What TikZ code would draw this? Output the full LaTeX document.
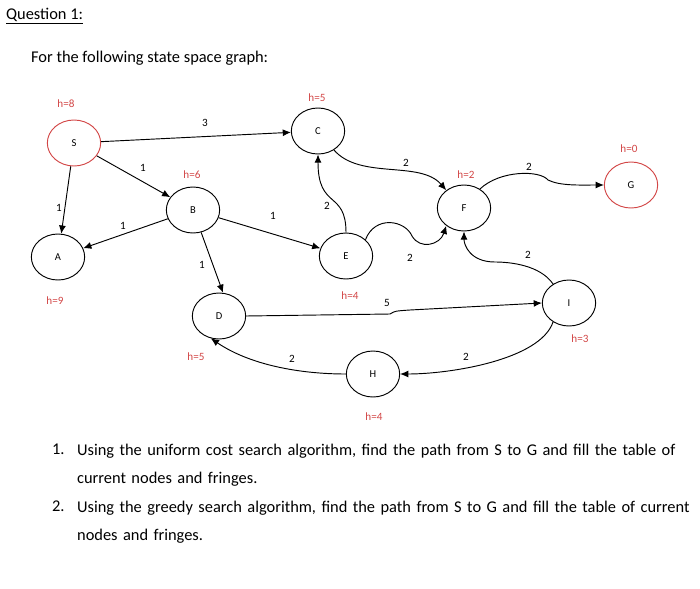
\documentclass[tikz,border=0pt]{standalone}
\usepackage{fontspec}
\setmainfont{Carlito}
\usetikzlibrary{arrows.meta,shapes.geometric}
\definecolor{hred}{RGB}{210,70,70}
\begin{document}
\begin{tikzpicture}[x=0.03cm,y=-0.03cm,
    state/.style={draw, thick, ellipse, minimum width=1.6cm, minimum height=1.38cm, font=\fontsize{9}{10}\selectfont},
    goal/.style={state, draw=hred},
    heur/.style={text=hred, font=\fontsize{9.5}{10}\selectfont},
    edge/.style={thick, -{Latex[length=7pt,width=6pt]}},
    cost/.style={font=\fontsize{9.5}{10}\selectfont},
    task/.style={anchor=north west, text width=18.7cm, align=left, font=\fontsize{14}{24}\selectfont}]
    \useasboundingbox (0,0) rectangle (700,589);

    % Heading
    \node[anchor=west, font=\fontsize{14}{16}\selectfont] (title) at (2,16) {\underline{Question 1:}};
    \node[anchor=west, font=\fontsize{14}{16}\selectfont] (intro) at (27,58) {For the following state space graph:};

    % States
    \node[goal] (S) at (74,143) {S};
    \node[state] (C) at (318,131) {C};
    \node[state] (B) at (193,210) {B};
    \node[state] (A) at (58,257) {A};
    \node[state] (E) at (346,256) {E};
    \node[state] (F) at (464,208) {F};
    \node[goal] (G) at (631,185) {G};
    \node[state] (D) at (219,316) {D};
    \node[state] (I) at (569,303) {I};
    \node[state] (H) at (373,374) {H};

    % Heuristics
    \node[heur] (hS) at (66,104) {h=8};
    \node[heur] (hC) at (317,98) {h=5};
    \node[heur] (hB) at (192,175) {h=6};
    \node[heur] (hA) at (55,301) {h=9};
    \node[heur] (hE) at (350,296) {h=4};
    \node[heur] (hF) at (466,175) {h=2};
    \node[heur] (hG) at (629,149) {h=0};
    \node[heur] (hI) at (580,339) {h=3};
    \node[heur] (hD) at (196,357) {h=5};
    \node[heur] (hH) at (374,417) {h=4};

    % Straight edges
    \draw[edge] (S) -- (C);
    \draw[edge] (S) -- (B);
    \draw[edge] (S) -- (A);
    \draw[edge] (B) -- (A);
    \draw[edge] (B) -- (E);
    \draw[edge] (B.-70) -- (D.80);

    % Curved edges
    \draw[edge] (E.90) .. controls (346,190) and (318,210) .. (C.-90);
    \draw[edge] (C.-50) .. controls (360,180) and (420,160) .. (F.135);
    \draw[edge] (E.40) .. controls (375,215) and (405,220) .. (412,236)
        .. controls (420,250) and (440,245) .. (F.-135);
    \draw[edge] (F.50) .. controls (500,170) and (540,170) .. (548,180)
        .. controls (560,186) and (580,185) .. (G.180);
    \draw[edge] (I.130) .. controls (540,265) and (510,262) .. (495,262)
        .. controls (470,262) and (464,245) .. (F.-90);
    \draw[edge] (D.0) -- (390,314) .. controls (395,311) .. (410,310) -- (I.180);
    \draw[edge] (I.-130) .. controls (540,360) and (450,374) .. (H.0);
    \draw[edge] (H.180) .. controls (300,374) and (250,365) .. (D.-110);

    % Costs
    \node[cost] (cSC) at (205,123) {3};
    \node[cost] (cSB) at (143,168) {1};
    \node[cost] (cSA) at (59,208) {1};
    \node[cost] (cBA) at (123,226) {1};
    \node[cost] (cBE) at (273,216) {1};
    \node[cost] (cBD) at (202,265) {1};
    \node[cost] (cEC) at (327,206) {2};
    \node[cost] (cCF) at (406,163) {2};
    \node[cost] (cEF) at (410,258) {2};
    \node[cost] (cFG) at (529,167) {2};
    \node[cost] (cIF) at (528,255) {2};
    \node[cost] (cDI) at (387,303) {5};
    \node[cost] (cIH) at (466,357) {2};
    \node[cost] (cHD) at (292,359) {2};

    % Tasks
    \node[task, text width=0.6cm] (n1) at (48,440) {1.};
    \node[task] (t1) at (73,440) {Using the uniform cost search algorithm, find the path from S to G and fill the table of current nodes and fringes.};
    \node[task, text width=0.6cm] (n2) at (48,497) {2.};
    \node[task] (t2) at (73,497) {Using the greedy search algorithm, find the path from S to G and fill the table of current nodes and fringes.};
\end{tikzpicture}
\end{document}
